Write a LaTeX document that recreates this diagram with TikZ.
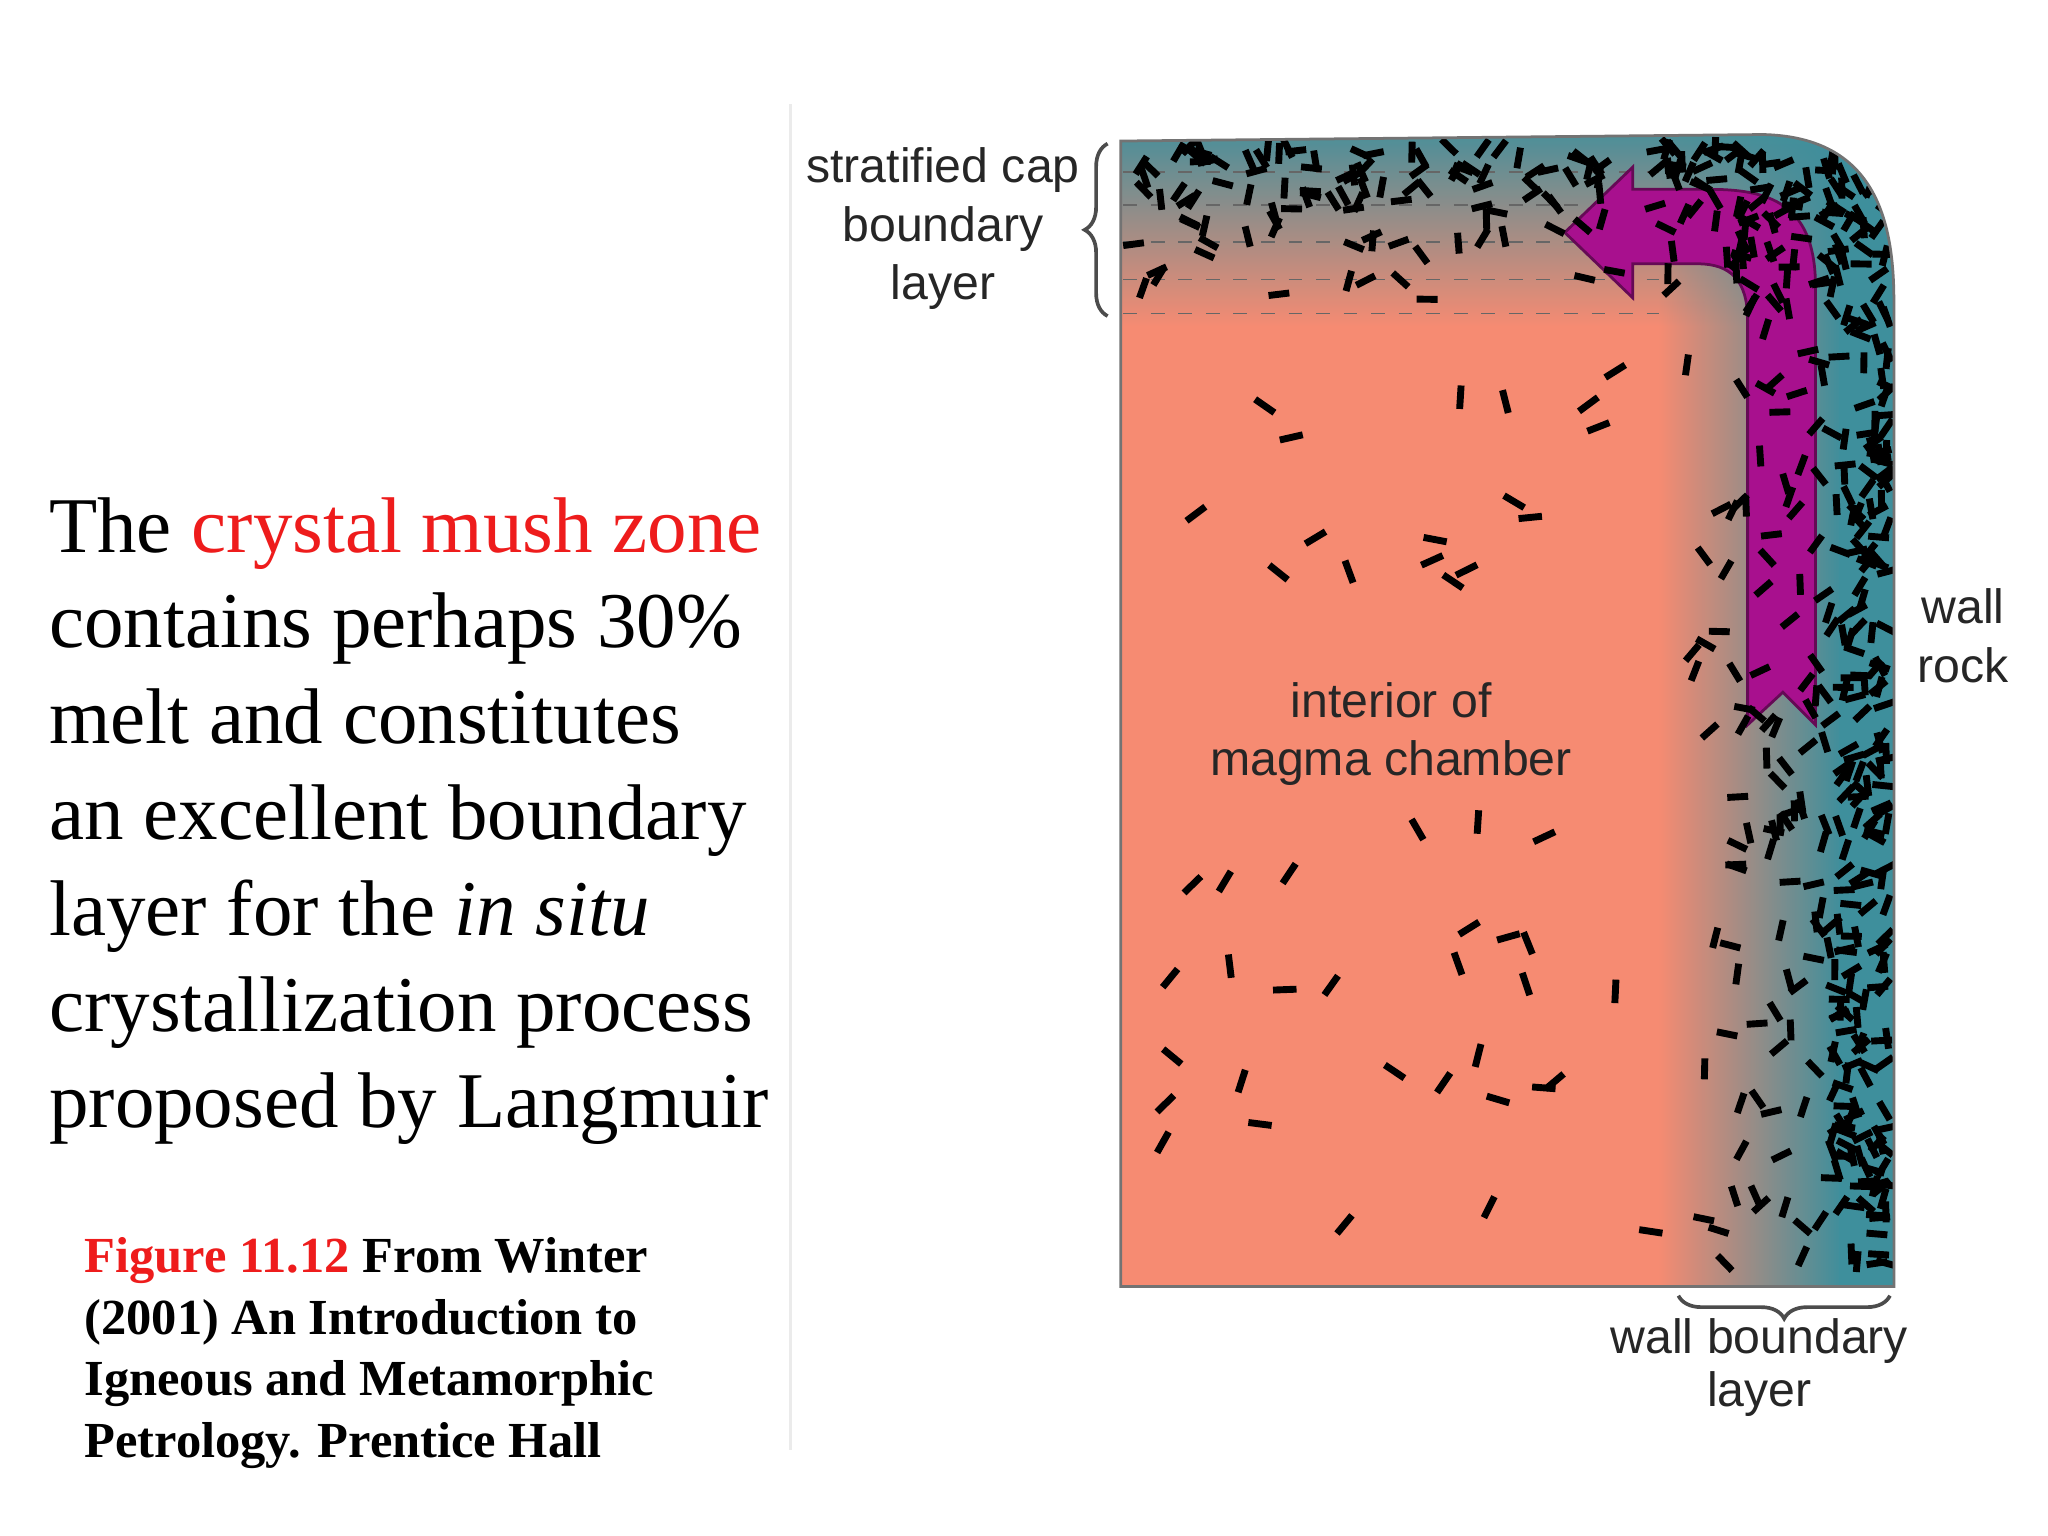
\documentclass[tikz,border=0pt]{standalone}
\usepackage{fontspec}
\setmainfont{Liberation Serif}
\setsansfont{Liberation Sans}
\usetikzlibrary{fadings,decorations.pathreplacing}
\definecolor{salmon}{HTML}{F68B72}
\definecolor{teal}{HTML}{3E8F9C}
\definecolor{mag}{HTML}{A8108E}
\definecolor{fred}{HTML}{EE1C1C}
\tikzfading[name=fadeR, left color=transparent!100, right color=transparent!0]
\tikzset{tick/.style={line width=1.5pt,black,line cap=butt},
 lbl/.style={font=\sffamily\fontsize{10.5}{12.8}\selectfont,align=center,text=black!85}}
\begin{document}
\begin{tikzpicture}
\useasboundingbox (0,0) rectangle (15.68,-11.76);
\fill[white] (0,0) rectangle (15.68,-11.76);
\draw[black!8,line width=0.6pt] (6.05,-0.8) -- (6.05,-11.1);
\def\chamber{(8.58,-1.08) -- (13.5,-1.03) .. controls (14.3,-1.05) and (14.5,-1.6) .. (14.5,-2.3) -- (14.5,-9.85) -- (8.58,-9.85) -- cycle}
\begin{scope}
\clip \chamber;
\fill[salmon] (8.5,-0.9) rectangle (14.6,-10);
\shade[top color=teal, bottom color=salmon] (8.5,-0.9) rectangle (14.6,-2.5);
\fill[teal,path fading=fadeR] (12.7,-0.9) rectangle (14.1,-10);
\fill[teal] (14.08,-0.9) rectangle (14.6,-10);
\foreach \yy in {1.32,1.57,1.85,2.14,2.40}
  \draw[black!60,dashed,line width=0.4pt] (8.6,-\yy) -- (12.7,-\yy);
\filldraw[fill=mag,draw=mag!60!black,line width=0.6pt] (13.38,-5.55) -- (13.65,-5.30) -- (13.90,-5.55) -- (13.90,-2.20) .. controls (13.90,-1.60) and (13.60,-1.45) .. (13.10,-1.45) -- (12.50,-1.45) -- (12.50,-1.28) -- (11.98,-1.78) -- (12.50,-2.28) -- (12.50,-2.02) -- (13.00,-2.02) .. controls (13.25,-2.02) and (13.38,-2.15) .. (13.38,-2.45) -- cycle;
\pgfmathsetseed{11}
\foreach \i in {1,...,60}{
  \pgfmathsetmacro\xx{8.9+3.8*rnd}\pgfmathsetmacro\yy{-2.8-6.8*rnd}\pgfmathsetmacro\aa{180*rnd}
  \pgfmathtruncatemacro\inbox{(\xx>8.95 && \xx<12.35 && \yy>-6.2 && \yy<-5.0) ? 1 : 0}
  \ifnum\inbox=0 \draw[tick] (\xx,\yy) ++(\aa:-0.09) -- ++(\aa:0.18);\fi}
\foreach \i in {1,...,340}{
  \pgfmathsetmacro\xx{14.45-1.75*rnd*rnd}\pgfmathsetmacro\yy{-1.9-7.85*rnd}\pgfmathsetmacro\aa{180*rnd}
  \draw[tick] (\xx,\yy) ++(\aa:-0.08) -- ++(\aa:0.16);}
\foreach \i in {1,...,150}{
  \pgfmathsetmacro\xx{8.65+4.8*rnd}\pgfmathsetmacro\yy{-1.12-1.35*rnd*rnd}\pgfmathsetmacro\aa{180*rnd}
  \draw[tick] (\xx,\yy) ++(\aa:-0.08) -- ++(\aa:0.16);}
\foreach \i in {1,...,60}{
  \pgfmathsetmacro\xx{13.3+1.15*rnd}\pgfmathsetmacro\yy{-1.1-0.9*rnd}\pgfmathsetmacro\aa{180*rnd}
  \draw[tick] (\xx,\yy) ++(\aa:-0.08) -- ++(\aa:0.16);}
\end{scope}
\draw[black!55,line width=0.6pt] \chamber;
% braces
\coordinate (b1) at (8.48,-2.42); \coordinate (b2) at (8.48,-1.10);
\draw[decorate,decoration={brace,amplitude=5pt},black!70,line width=0.8pt] (b1) -- (b2);
\coordinate (b3) at (14.47,-9.92); \coordinate (b4) at (12.85,-9.92);
\draw[decorate,decoration={brace,amplitude=5pt},black!70,line width=0.8pt] (b3) -- (b4);
% labels
\node[lbl] (cap) at (7.22,-1.75) {stratified cap\\boundary\\layer};
\node[lbl] (int) at (10.65,-5.62) {interior of\\magma chamber};
\node[lbl] (wr) at (15.03,-4.87) {wall\\rock};
\node[lbl,font=\sffamily\fontsize{10.5}{11.5}\selectfont] (wbl) at (13.47,-10.47) {wall boundary\\layer};
% left text
\node[anchor=north west,align=left,inner sep=0pt,font=\fontsize{17.2}{20.9}\selectfont] (txt) at (0.37,-3.80)
 {The \textcolor{fred}{crystal mush zone}\\contains perhaps 30\%\\melt and constitutes\\an excellent boundary\\layer for the \textit{in situ}\\crystallization process\\proposed by Langmuir};
\node[anchor=north west,align=left,inner sep=0pt,font=\bfseries\fontsize{11}{13.4}\selectfont] (cap2) at (0.64,-9.47)
 {\textcolor{fred}{Figure 11.12} From Winter\\(2001) An Introduction to\\Igneous and Metamorphic\\Petrology. Prentice Hall};
\end{tikzpicture}
\end{document}
